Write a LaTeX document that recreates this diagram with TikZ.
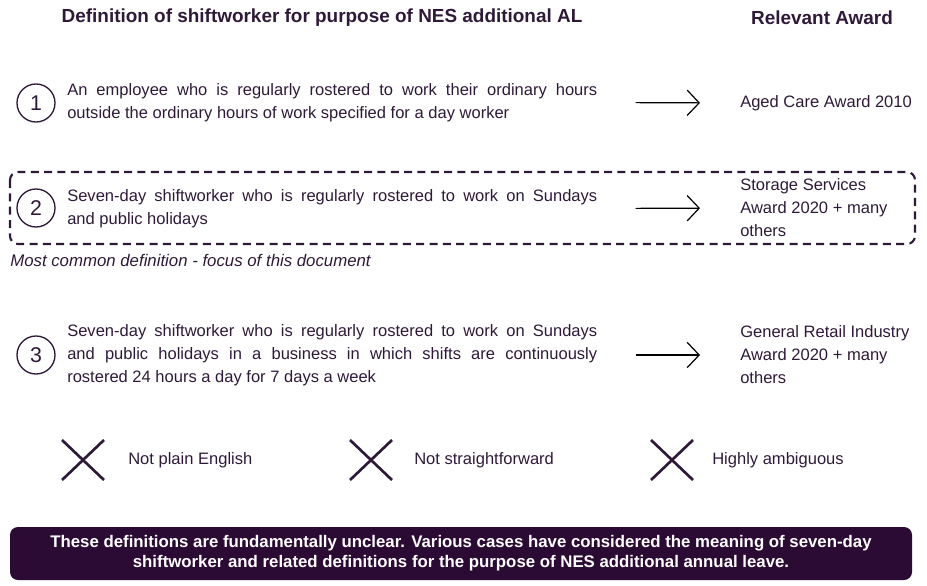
\documentclass[tikz,border=0pt]{standalone}
\usepackage{fontspec}
\setmainfont{Liberation Sans}
\usetikzlibrary{arrows.meta}
\definecolor{plum}{HTML}{2E1A38}
\definecolor{plumbox}{HTML}{2B0A33}
\def\fullline#1{\makebox[397.5pt][s]{#1}}

\begin{document}
\begin{tikzpicture}[x=0.75pt,y=-0.75pt,
	every node/.style={text=plum, font=\fontsize{12.4}{17.25}\selectfont, inner sep=0pt},
	head/.style={font=\fontsize{14.2}{17}\selectfont\bfseries},
	numcirc/.style={circle, draw=plum, line width=1pt, minimum size=28.5pt, font=\fontsize{16}{18}\selectfont},
	deftext/.style={anchor=west, align=left},
	award/.style={anchor=west, align=left},
	cross/.style={draw=plum, line width=2pt},
	link/.style={draw=black, line width=0.9pt, -{Straight Barb[length=9pt,width=19pt]}, shorten <=28.5pt, shorten >=30pt},
	]
	%%%%% START %%%%%
	\useasboundingbox (0,0) rectangle (927,585);
	
	\node[head] (defhead) at (322,18) {Definition of shiftworker for purpose of NES additional AL};
	\node[head] (awardhead) at (822,18) {Relevant Award};
	
	% first definition
	\node[numcirc] (n1) at (36,103) {1};
	\node[deftext] (def1) at (67,102.5) {\fullline{An employee who is regularly rostered to work their ordinary hours}\\
		outside the ordinary hours of work specified for a day worker};
	\node[award] (award1) at (740,103) {Aged Care Award 2010};
	\draw[link] (def1.east) -- (award1.west);
	
	% second definition
	\draw[plum, line width=1.6pt, dash pattern=on 6pt off 4pt, rounded corners=6pt] (10,172) rectangle (915,244);
	\node[numcirc] (n2) at (36,208) {2};
	\node[deftext] (def2) at (67,208.5) {\fullline{Seven-day shiftworker who is regularly rostered to work on Sundays}\\
		and public holidays};
	\node[award] (award2) at (740,208) {Storage Services\\Award 2020 + many\\others};
	\draw[link] (def2.east) -- (award2.west);
	\node[anchor=west, font=\fontsize{12.6}{15}\selectfont\itshape] (focus) at (10,260) {Most common definition - focus of this document};
	
	% third definition
	\node[numcirc] (n3) at (36,355) {3};
	\node[deftext] (def3) at (67,355) {\fullline{Seven-day shiftworker who is regularly rostered to work on Sundays}\\
		\fullline{and public holidays in a business in which shifts are continuously}\\
		rostered 24 hours a day for 7 days a week};
	\node[award] (award3) at (740,355) {General Retail Industry\\Award 2020 + many\\others};
	\draw[link] (def3.east) -- (award3.west);
	
	% crosses
	\foreach \cx/\lx/\nm/\lbl in {83/128/plain/Not plain English, 371/414/straight/Not straightforward, 672/712/ambig/Highly ambiguous}{
		\draw[cross] (\cx-21,440) -- (\cx+21,480) (\cx-21,480) -- (\cx+21,440);
		\node[anchor=west] (\nm) at (\lx,460) {\lbl};
	}
	
	\node[fill=plumbox, rounded corners=6pt, minimum width=676.5pt, minimum height=39.75pt, text=white, align=center,
		font=\fontsize{12.6}{15}\selectfont\bfseries] (summary) at (461,553.5)
		{These definitions are fundamentally unclear. Various cases have considered the meaning of seven-day\\
		shiftworker and related definitions for the purpose of NES additional annual leave.};
	%%%%% END %%%%%
\end{tikzpicture}
\end{document}
